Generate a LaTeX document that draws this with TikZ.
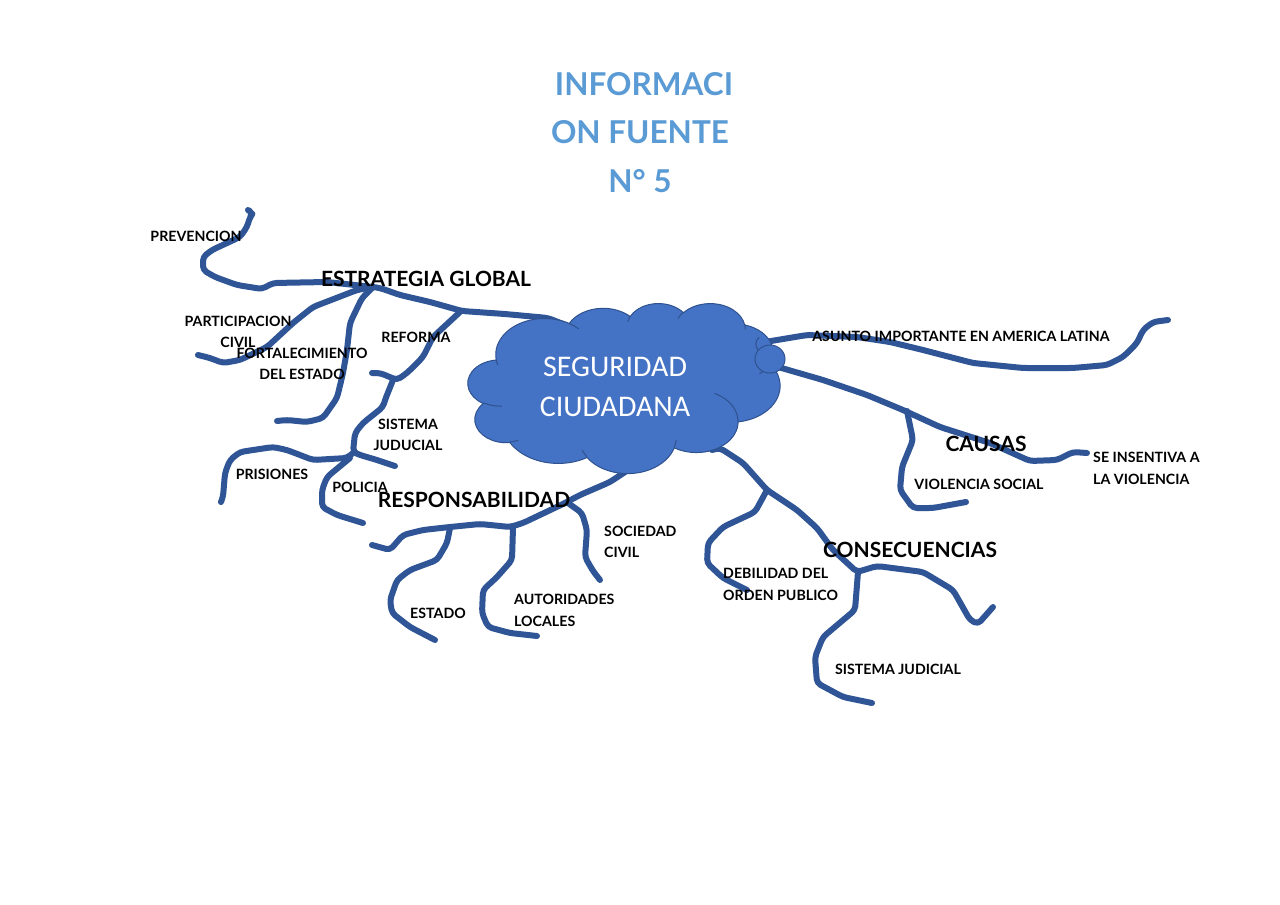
\documentclass[tikz,border=0pt]{standalone}
\usepackage{fontspec}
\setmainfont{Lato}
\newfontfamily\cloudfont{Carlito}
\definecolor{brc}{HTML}{2F5597}
\definecolor{cloudfill}{HTML}{4472C4}
\definecolor{cloudline}{HTML}{2F528F}
\definecolor{titlec}{HTML}{5B9BD5}
\tikzset{
  br/.style={draw=brc, line width=6, line cap=round, line join=round, rounded corners=4},
  lab/.style={font=\bfseries\fontsize{14.2}{21.5}\selectfont, inner sep=0, text=black},
  big/.style={font=\bfseries\fontsize{21}{24}\selectfont, inner sep=0, text=black},
  ttl/.style={font=\bfseries\fontsize{31.5}{36}\selectfont, inner sep=0, text=titlec},
  cloudedge/.style={draw=cloudline, line width=1, line join=round},
}
% arc of the cloud outline: name, x radius, y radius (hundredths of the shape), start angle, sweep (visual degrees, y down)
\newcommand\defarc[5]{%
  \pgfmathsetmacro\tmpa{atan2((#2)*sin(#4),(#3)*cos(#4))}%
  \pgfmathsetmacro\tmpb{atan2((#2)*sin((#4)+(#5)),(#3)*cos((#4)+(#5)))}%
  \pgfmathsetmacro\tmpc{-mod(\tmpb-\tmpa+720,360)}%
  \pgfmathsetmacro\tmpa{-\tmpa}%
  \pgfmathsetmacro\tmpx{(#2)*0.722222}%
  \pgfmathsetmacro\tmpy{(#3)*0.393519}%
  \expandafter\xdef\csname cloudarc#1\endcsname{arc[start angle=\tmpa, delta angle=\tmpc, x radius=\tmpx pt, y radius=\tmpy pt]}%
}
\defarc{A}{67.53}{91.90}{-190.4875}{123.7805}
\defarc{B}{53.33}{72.67}{-144.1024}{89.9452}
\defarc{C}{43.65}{59.45}{-145.8079}{99.7230}
\defarc{D}{48.57}{65.95}{-130.9861}{117.2417}
\defarc{E}{53.33}{72.73}{-78.7089}{109.0269}
\defarc{F}{67.75}{92.20}{-46.2673}{130.2690}
\defarc{G}{57.85}{78.67}{0.6250}{114.0333}
\defarc{H}{67.52}{92.15}{22.4516}{115.1726}
\defarc{I}{77.20}{105.43}{66.2426}{75.7110}
\defarc{J}{43.60}{59.18}{-274.9421}{146.7356}
\defarc{K}{43.45}{59.45}{-246.8285}{152.5189}
% inner strokes
\defarc{a}{43.45}{59.45}{86.7420}{26.4295}
\defarc{b}{43.60}{59.18}{73.6105}{11.4475}
\defarc{c}{67.52}{92.15}{137.6242}{14.0811}
\defarc{d}{67.52}{92.15}{6.4533}{15.9984}
\defarc{e}{57.85}{78.67}{-70.2924}{70.9174}
\defarc{f}{53.33}{72.73}{30.3180}{27.7515}
\defarc{g}{48.57}{65.95}{-13.7443}{14.8589}
\defarc{h}{48.57}{65.95}{-149.1815}{18.1954}
\defarc{i}{43.45}{59.45}{-163.4943}{17.6864}
\defarc{j}{67.53}{91.90}{-66.7070}{12.3194}
\defarc{k}{67.53}{91.90}{157.6544}{11.8582}
\begin{document}
\begin{tikzpicture}[x=1pt,y=-1pt]
\useasboundingbox[fill=white] (0,0) rectangle (1280,905);

% title
\node[ttl] (t1) at (644,84) {INFORMACI};
\node[ttl] (t2) at (640,132) {ON FUENTE};
\node[ttl] (t3) at (640,181) {N° 5};

% ---- branches: ESTRATEGIA GLOBAL
\draw[br] (578,330) -- (548,318) -- (505,314) -- (462,311) -- (430,302) -- (400,295) -- (380,288) -- (373,287)
  -- (327,282) -- (273,283) -- (262,289) -- (237,285) -- (215,277) -- (203,270) -- (203,257) -- (212,250)
  -- (240,237) -- (247,227) -- (250,217) -- (253,213) -- (248,210);
\draw[br] (373,287) -- (357,290) -- (313,307) -- (293,323) -- (267,347) -- (240,360) -- (223,363) -- (210,358) -- (198,355);
\draw[br] (373,287) -- (362,298) -- (350,323) -- (347,350) -- (343,373) -- (337,398) -- (323,418) -- (307,422) -- (287,420) -- (277,421);
\draw[br] (460,312) -- (433,337) -- (423,357) -- (407,373) -- (397,380) -- (380,373) -- (372,373);
\draw[br] (393,380) -- (385,400) -- (383,407) -- (363,423) -- (355,433) -- (353,452) -- (360,455) -- (377,460) -- (395,466);
\draw[br] (353,453) -- (347,458) -- (313,460) -- (287,450) -- (273,447) -- (240,452) -- (230,460) -- (225,473) -- (223,497) -- (221,502);
\draw[br] (350,458) -- (327,477) -- (322,490) -- (322,507) -- (337,515) -- (363,523);

% ---- RESPONSABILIDAD
\draw[br] (625,472) -- (610,482) -- (580,495) -- (563,504) -- (523,523) -- (510,527) -- (480,524) -- (450,527) -- (423,530) -- (403,535) -- (390,550) -- (372,545);
\draw[br] (450,528) -- (447,543) -- (437,560) -- (410,570) -- (397,580) -- (390,600) -- (392,613) -- (410,627) -- (435,640);
\draw[br] (513,528) -- (512,560) -- (497,577) -- (483,590) -- (482,613) -- (488,627) -- (510,633) -- (537,636);
\draw[br] (568,503) -- (582,513) -- (587,530) -- (585,557) -- (593,571) -- (600,580);

% ---- ASUNTO / CAUSAS
\draw[br] (765,342) -- (807,335) -- (857,337) -- (890,342) -- (923,350) -- (973,363) -- (1023,368) -- (1073,368) -- (1107,365)
  -- (1123,357) -- (1137,343) -- (1143,330) -- (1153,322) -- (1168,320);
\draw[br] (778,367) -- (823,380) -- (867,395) -- (903,410) -- (940,427) -- (990,443) -- (1030,461) -- (1057,460) -- (1073,452) -- (1087,453);
\draw[br] (907,411) -- (913,440) -- (902,467) -- (900,490) -- (913,508) -- (933,508) -- (966,502);

% ---- CONSECUENCIAS
\draw[br] (712,450) -- (720,448) -- (743,463) -- (767,490) -- (797,510) -- (817,528) -- (833,550) -- (857,572)
  -- (877,566) -- (923,572) -- (953,590) -- (970,620) -- (978,624) -- (993,607);
\draw[br] (767,490) -- (755,512) -- (723,527) -- (708,543) -- (707,563) -- (723,578) -- (747,590);
\draw[br] (858,572) -- (855,610) -- (823,637) -- (815,657) -- (817,683) -- (843,697) -- (872,703);

% ---- cloud (shape of 432 x 432 units mapped onto 312 x 170)
\begin{scope}[shift={(468,303)}, x=0.722222pt, y=-0.393519pt]
  \coordinate (cl) at (216,216);
  \draw[cloudedge, fill=cloudfill] (39,143.70) \cloudarcA \cloudarcB \cloudarcC \cloudarcD \cloudarcE \cloudarcF
     \cloudarcG \cloudarcH \cloudarcI \cloudarcJ \cloudarcK -- cycle;
  \draw[cloudedge] (46.93,261.77) \cloudarca;
  \draw[cloudedge] (69.28,348.99) \cloudarcb;
  \draw[cloudedge] (164.78,390.90) \cloudarcc;
  \draw[cloudedge] (288.27,347.51) \cloudarcd;
  \draw[cloudedge] (341.29,229.54) \cloudarce;
  \draw[cloudedge] (417.98,153.54) \cloudarcf;
  \draw[cloudedge] (383.24,54.26) \cloudarcg;
  \draw[cloudedge] (290.78,39.52) \cloudarch;
  \draw[cloudedge] (221.41,47.20) \cloudarci;
  \draw[cloudedge] (140.00,51.92) \cloudarcj;
  \draw[cloudedge] (41.27,157.89) \cloudarck;
\end{scope}
\draw[cloudedge, fill=cloudfill] (770,359) ellipse[x radius=15, y radius=14];
\draw[cloudedge] (758,350) arc[start angle=140, end angle=230, radius=9];
\node[inner sep=0, text=white, font=\cloudfont\fontsize{30}{40}\selectfont, align=center] (sc) at (615,387) {SEGURIDAD\\CIUDADANA};

% ---- labels
\node[lab] (prev) at (196,236) {PREVENCION};
\node[big] (eg) at (426,279) {ESTRATEGIA GLOBAL};
\node[lab, align=center] (pc) at (238,332) {PARTICIPACION\\CIVIL};
\node[lab, align=center] (fe) at (302,364) {FORTALECIMIENTO\\DEL ESTADO};
\node[lab] (ref) at (416,337) {REFORMA};
\node[lab, align=center] (sj) at (408,435) {SISTEMA\\JUDUCIAL};
\node[lab] (pri) at (272,474) {PRISIONES};
\node[lab] (pol) at (360,487) {POLICIA};
\node[big] (resp) at (474,500) {RESPONSABILIDAD};
\node[lab, align=left, anchor=west] (soc) at (604,542) {SOCIEDAD\\CIVIL};
\node[lab] (est) at (438,613) {ESTADO};
\node[lab, align=left, anchor=west] (aut) at (514,610.5) {AUTORIDADES\\LOCALES};
\node[lab] (asu) at (961,336) {ASUNTO IMPORTANTE EN AMERICA LATINA};
\node[big] (cau) at (986,444) {CAUSAS};
\node[lab, align=left, anchor=west] (sei) at (1093,468.5) {SE INSENTIVA A\\LA VIOLENCIA};
\node[lab] (vs) at (979,484) {VIOLENCIA SOCIAL};
\node[big] (con) at (910,550) {CONSECUENCIAS};
\node[lab, align=left, anchor=west] (deb) at (723,584.5) {DEBILIDAD DEL\\ORDEN PUBLICO};
\node[lab] (sjud) at (898,669) {SISTEMA JUDICIAL};
\end{tikzpicture}
\end{document}
